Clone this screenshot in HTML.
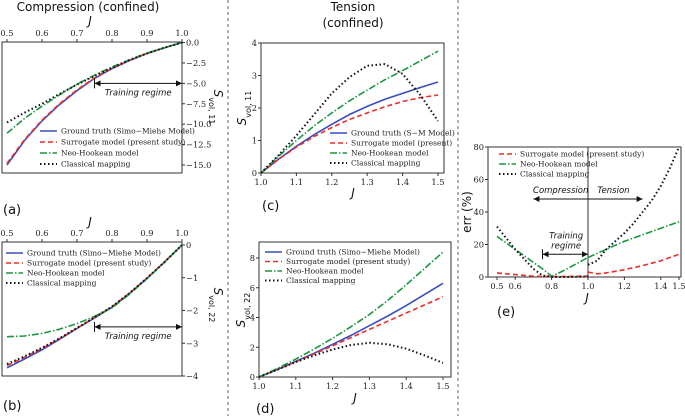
<!DOCTYPE html>
<html><head><meta charset="utf-8">
<style>
html,body{margin:0;padding:0;background:#fff;}
svg{display:block;}
.tk{font-family:"DejaVu Serif","Liberation Serif",serif;font-size:8.3px;fill:#222;}
.lg{font-family:"DejaVu Serif","Liberation Serif",serif;font-size:7.5px;fill:#222;}
.tt{font-family:"DejaVu Sans","Liberation Sans",sans-serif;font-size:12px;fill:#111;}
.it{font-family:"DejaVu Sans","Liberation Sans",sans-serif;font-size:8.5px;font-style:italic;fill:#111;}
.pl{font-family:"DejaVu Sans","Liberation Sans",sans-serif;font-size:13px;fill:#111;}
</style></head>
<body>
<svg id="fig" width="685" height="416" viewBox="0 0 685 416" xmlns="http://www.w3.org/2000/svg">
<line x1="228" y1="0" x2="228" y2="416" stroke="#666" stroke-dasharray="3,3"/>
<line x1="458" y1="0" x2="458" y2="416" stroke="#666" stroke-dasharray="3,3"/>
<text class="tt" x="88" y="11" text-anchor="middle">Compression (confined)</text>
<text class="tt" x="353" y="11" text-anchor="middle">Tension</text>
<text class="tt" x="353" y="27" text-anchor="middle">(confined)</text>
<text class="pl" x="3" y="214">(a)</text>
<text class="pl" x="3" y="410">(b)</text>
<text class="pl" x="262" y="210">(c)</text>
<text class="pl" x="256" y="413">(d)</text>
<text class="pl" x="497" y="316">(e)</text>
</svg>
<script>
// ---- panel (a) data ----
const aJ=[0.5,0.55,0.6,0.65,0.7,0.75,0.8,0.85,0.9,0.95,1.0];
const aGround=[-15,-12,-9.6,-7.6,-5.9,-4.4,-3.2,-2.2,-1.35,-0.65,0];
const aSurrogate=[-14.8,-11.9,-9.5,-7.5,-5.8,-4.35,-3.15,-2.2,-1.35,-0.65,0];
const aNeo=[-11.1,-9.3,-7.8,-6.4,-5.1,-4.0,-3.0,-2.1,-1.3,-0.63,0];
const aClassical=[-9.8,-8.6,-7.5,-6.3,-5.15,-4.1,-3.1,-2.15,-1.33,-0.64,0];
const aXTicks=[0.5,0.6,0.7,0.8,0.9,1.0];
const aYTicks=[0,-2.5,-5,-7.5,-10,-12.5,-15];
// ---- panel (b) data ----
const bJ=[0.5,0.55,0.6,0.65,0.7,0.75,0.8,0.85,0.9,0.95,1.0];
const bGround=[-3.75,-3.48,-3.2,-2.88,-2.55,-2.23,-1.9,-1.48,-1.02,-0.52,0];
const bSurrogate=[-3.68,-3.43,-3.16,-2.86,-2.54,-2.22,-1.88,-1.47,-1.01,-0.52,0];
const bNeo=[-2.8,-2.78,-2.7,-2.57,-2.4,-2.18,-1.92,-1.5,-1.03,-0.53,0];
const bClassical=[-3.63,-3.4,-3.14,-2.85,-2.53,-2.21,-1.88,-1.47,-1.01,-0.52,0];
const bXTicks=[0.5,0.6,0.7,0.8,0.9,1.0];
const bYTicks=[0,-1,-2,-3,-4];
// ---- panel (c) data ----
const cJ=[1.0,1.05,1.1,1.15,1.2,1.25,1.3,1.35,1.4,1.45,1.5];
const cGround=[0,0.43,0.82,1.18,1.5,1.8,2.05,2.27,2.45,2.63,2.8];
const cSurrogate=[0,0.42,0.8,1.12,1.4,1.65,1.85,2.04,2.2,2.32,2.4];
const cNeo=[0,0.52,1.0,1.45,1.85,2.22,2.55,2.87,3.15,3.45,3.75];
const cClassical=[0,0.55,1.15,1.8,2.45,2.95,3.3,3.35,3.05,2.4,1.6];
const cXTicks=[1.0,1.1,1.2,1.3,1.4,1.5];
const cYTicks=[0,1,2,3,4];
// ---- panel (d) data ----
const dJ=[1.0,1.05,1.1,1.15,1.2,1.25,1.3,1.35,1.4,1.45,1.5];
const dGround=[0,0.5,1.05,1.6,2.2,2.8,3.45,4.1,4.8,5.55,6.3];
const dSurrogate=[0,0.5,1.03,1.55,2.1,2.65,3.2,3.75,4.3,4.85,5.4];
const dNeo=[0,0.58,1.2,1.88,2.6,3.38,4.2,5.15,6.2,7.3,8.4];
const dClassical=[0,0.5,1.0,1.45,1.85,2.15,2.3,2.2,1.9,1.45,0.95];
const dXTicks=[1.0,1.1,1.2,1.3,1.4,1.5];
const dYTicks=[0,2,4,6,8];
// ---- panel (e) data ----
const eJComp=[0.5,0.55,0.6,0.65,0.7,0.75,0.8,0.85,0.9,0.95,1.0];
const eSurrComp=[2.5,2,1.5,1,0.5,0.4,0.3,0.3,0.4,0.5,0.6];
const eNeoComp=[25,21,17,13,9,5,0.5,3,6,9,12];
const eClassComp=[31,24,17,11,5,1,0,0,0,0.2,0.3];
const eJTen=[1.0,1.05,1.1,1.15,1.2,1.25,1.3,1.35,1.4,1.45,1.5];
const eSurrTen=[3,2,2.5,3.5,4.5,5.7,7,8.5,10,12,14];
const eNeoTen=[12,14.5,17,19.5,22,24,26,28,30,32,34];
const eClassTen=[7.5,10,17,22,27,33,40,47,56,67,80];
const eXTicks=[0.5,0.6,0.8,1.0,1.2,1.4,1.5];
const eYTicks=[0,20,40,60,80];

const NS="http://www.w3.org/2000/svg";
const svg=document.getElementById('fig');
function mk(tag,attrs,parent){const e=document.createElementNS(NS,tag);for(const k in attrs)e.setAttribute(k,attrs[k]);(parent||svg).appendChild(e);return e;}
const STY={
 ground:{stroke:'#3b4cc0',dash:'',w:1.6},
 surrogate:{stroke:'#e8302a',dash:'5,3',w:1.6},
 neo:{stroke:'#1a9641',dash:'7,2,1.5,2',w:1.6},
 classical:{stroke:'#111',dash:'1.5,2.5',w:2}
};
function scale(d0,d1,r0,r1){return v=>r0+(v-d0)/(d1-d0)*(r1-r0);}
function drawSeries(g,xs,ys,sx,sy,key,name){
  const s=STY[key];
  const p=mk('polyline',{points:xs.map((x,i)=>sx(x).toFixed(1)+','+sy(ys[i]).toFixed(1)).join(' '),fill:'none',stroke:s.stroke,'stroke-width':s.w,'stroke-dasharray':s.dash},g);
  
  
}
function fmt(v,dec){return v.toFixed(dec).replace('-','\u2212');}
function axes(g,c,sx,sy){
  mk('rect',{x:c.x0,y:c.y0,width:c.x1-c.x0,height:c.y1-c.y0,fill:'none',stroke:'#333','stroke-width':1},g);
  c.xt.forEach(v=>{const x=sx(v);
    if(c.xtop){mk('line',{x1:x,y1:c.y0,x2:x,y2:c.y0-3,stroke:'#333'},g);
      const t=mk('text',{x:x,y:c.y0-6,'text-anchor':'middle',class:'tk'},g);t.textContent=fmt(v,c.xd);}
    else{mk('line',{x1:x,y1:c.y1,x2:x,y2:c.y1+3,stroke:'#333'},g);
      const t=mk('text',{x:x,y:c.y1+12,'text-anchor':'middle',class:'tk'},g);t.textContent=fmt(v,c.xd);}
  });
  c.yt.forEach(v=>{const y=sy(v);
    if(c.yright){mk('line',{x1:c.x1,y1:y,x2:c.x1+3,y2:y,stroke:'#333'},g);
      const t=mk('text',{x:c.x1+4,y:y+3,'text-anchor':'start',class:'tk'},g);t.textContent=fmt(v,c.yd);}
    else{mk('line',{x1:c.x0,y1:y,x2:c.x0-3,y2:y,stroke:'#333'},g);
      const t=mk('text',{x:c.x0-4,y:y+3,'text-anchor':'end',class:'tk'},g);t.textContent=fmt(v,c.yd);}
  });
}
function legend(g,x,y,dy,items){
  items.forEach((it,i)=>{const s=STY[it[0]];const yy=y+i*dy;
    const li=mk('g',{},g);
    
    
    mk('line',{x1:x,y1:yy,x2:x+17,y2:yy,stroke:s.stroke,'stroke-width':s.w,'stroke-dasharray':s.dash},li);
    const t=mk('text',{x:x+21,y:yy+2.5,class:'lg'},li);t.textContent=it[1];});
}
function arrow(g,xa,xb,y,bar){
  mk('line',{x1:xa,y1:y,x2:xb,y2:y,stroke:'#111','stroke-width':1},g);
  mk('path',{d:`M${xa},${y} l6,-3 v6 z`,fill:'#111'},g);
  mk('path',{d:`M${xb},${y} l-6,-3 v6 z`,fill:'#111'},g);
  if(bar) mk('line',{x1:xa,y1:y-5,x2:xa,y2:y+5,stroke:'#111'},g);
}
function ylabel(g,x,y,rot,sub){
  const t=mk('text',{x:x,y:y,transform:`rotate(${rot} ${x} ${y})`,'text-anchor':'middle',class:'tt','font-style':'italic'},g);
  t.textContent='S';
  const ts=mk('tspan',{'font-size':'8','baseline-shift':'sub','font-style':'normal'},t);ts.textContent=sub;
  
  
}
function jlabel(g,x,y){const t=mk('text',{x:x,y:y,'text-anchor':'middle',class:'tt','font-style':'italic'},g);t.textContent='J';
  
  }

// Panel a
(function(){
 const g=mk('g',{});
 const c={x0:2,x1:182,y0:42,y1:173,xt:aXTicks,yt:aYTicks,xd:1,yd:1,xtop:true,yright:true};
 const sx=scale(0.5,1.0,7,182), sy=scale(0,-15,42.5,165);
 axes(g,c,sx,sy);
 drawSeries(g,aJ,aGround,sx,sy,'ground','line-ground-truth');
 drawSeries(g,aJ,aSurrogate,sx,sy,'surrogate','line-surrogate');
 drawSeries(g,aJ,aNeo,sx,sy,'neo','line-neo-hookean');
 drawSeries(g,aJ,aClassical,sx,sy,'classical','line-classical');
 arrow(g,sx(0.75),sx(1.0),sy(-5),true);
 const t=mk('text',{x:sx(0.875),y:sy(-5)+12,'text-anchor':'middle',class:'it'},g);t.textContent='Training regime';
 legend(g,40,131,11,[['ground','Ground truth (Simo\u2212Miehe Model)'],['surrogate','Surrogate model (present study)'],['neo','Neo-Hookean model'],['classical','Classical mapping']]);
 jlabel(g,90,25);
 ylabel(g,214,107,90,'vol, 11');
})();
// Panel b
(function(){
 const g=mk('g',{});
 const c={x0:2,x1:182,y0:242,y1:376,xt:bXTicks,yt:bYTicks,xd:1,yd:0,xtop:true,yright:true};
 const sx=scale(0.5,1.0,7,182), sy=scale(0,-4,245,376);
 axes(g,c,sx,sy);
 drawSeries(g,bJ,bGround,sx,sy,'ground','line-ground-truth');
 drawSeries(g,bJ,bSurrogate,sx,sy,'surrogate','line-surrogate');
 drawSeries(g,bJ,bNeo,sx,sy,'neo','line-neo-hookean');
 drawSeries(g,bJ,bClassical,sx,sy,'classical','line-classical');
 arrow(g,sx(0.75),sx(1.0),sy(-2.5),true);
 const t=mk('text',{x:sx(0.875),y:sy(-2.5)+12,'text-anchor':'middle',class:'it'},g);t.textContent='Training regime';
 legend(g,6,253,10,[['ground','Ground truth (Simo\u2212Miehe Model)'],['surrogate','Surrogate model (present study)'],['neo','Neo-Hookean model'],['classical','Classical mapping']]);
 jlabel(g,90,226);
 ylabel(g,214,305,90,'vol, 22');
})();
// Panel c
(function(){
 const g=mk('g',{});
 const c={x0:261,x1:444,y0:43,y1:173,xt:cXTicks,yt:cYTicks,xd:1,yd:0,xtop:false,yright:false};
 const sx=scale(1.0,1.5,261,438), sy=scale(0,4,173,43);
 axes(g,c,sx,sy);
 drawSeries(g,cJ,cGround,sx,sy,'ground','line-ground-truth');
 drawSeries(g,cJ,cSurrogate,sx,sy,'surrogate','line-surrogate');
 drawSeries(g,cJ,cNeo,sx,sy,'neo','line-neo-hookean');
 drawSeries(g,cJ,cClassical,sx,sy,'classical','line-classical');
 legend(g,330,133,10,[['ground','Ground truth (S\u2212M Model)'],['surrogate','Surrogate model (present)'],['neo','Neo-Hookean model'],['classical','Classical mapping']]);
 jlabel(g,353,197);
 ylabel(g,246,108,-90,'vol, 11');
})();
// Panel d
(function(){
 const g=mk('g',{});
 const c={x0:259,x1:451,y0:242,y1:377,xt:dXTicks,yt:dYTicks,xd:1,yd:0,xtop:false,yright:false};
 const sx=scale(1.0,1.5,259,443), sy=scale(0,8,377,258);
 axes(g,c,sx,sy);
 drawSeries(g,dJ,dGround,sx,sy,'ground','line-ground-truth');
 drawSeries(g,dJ,dSurrogate,sx,sy,'surrogate','line-surrogate');
 drawSeries(g,dJ,dNeo,sx,sy,'neo','line-neo-hookean');
 drawSeries(g,dJ,dClassical,sx,sy,'classical','line-classical');
 legend(g,265,252,9.5,[['ground','Ground truth (Simo\u2212Miehe Model)'],['surrogate','Surrogate model (present study)'],['neo','Neo-Hookean model'],['classical','Classical mapping']]);
 jlabel(g,355,402);
 ylabel(g,245,310,-90,'vol, 22');
})();
// Panel e
(function(){
 const g=mk('g',{});
 const c={x0:488,x1:681,y0:147,y1:277,xt:eXTicks,yt:eYTicks,xd:1,yd:0,xtop:false,yright:false};
 const sx=scale(0.5,1.5,497,679), sy=scale(0,80,277,147);
 axes(g,c,sx,sy);
 mk('line',{x1:sx(1.0),y1:147,x2:sx(1.0),y2:277,stroke:'#333','stroke-width':1},g);
 drawSeries(g,eJComp,eSurrComp,sx,sy,'surrogate','line-surrogate-compression');
 drawSeries(g,eJTen,eSurrTen,sx,sy,'surrogate','line-surrogate-tension');
 drawSeries(g,eJComp,eNeoComp,sx,sy,'neo','line-neo-compression');
 drawSeries(g,eJTen,eNeoTen,sx,sy,'neo','line-neo-tension');
 drawSeries(g,eJComp,eClassComp,sx,sy,'classical','line-classical-compression');
 drawSeries(g,eJTen,eClassTen,sx,sy,'classical','line-classical-tension');
 arrow(g,sx(0.7),sx(1.3),sy(48),false);
 let t=mk('text',{x:sx(0.85),y:sy(48)-6,'text-anchor':'middle',class:'it'},g);t.textContent='Compression';
 t=mk('text',{x:sx(1.14),y:sy(48)-6,'text-anchor':'middle',class:'it'},g);t.textContent='Tension';
 arrow(g,sx(0.75),sx(1.0),sy(14),true);
 t=mk('text',{x:sx(0.88),y:sy(14)-16,'text-anchor':'middle',class:'it'},g);t.textContent='Training';
 t=mk('text',{x:sx(0.88),y:sy(14)-6,'text-anchor':'middle',class:'it'},g);t.textContent='regime';
 legend(g,499,154,10,[['surrogate','Surrogate model (present study)'],['neo','Neo-Hookean model'],['classical','Classical mapping']]);
 jlabel(g,587,302);
 t=mk('text',{x:471,y:212,transform:'rotate(-90 471 212)','text-anchor':'middle',class:'tt','font-size':'11'},g);t.textContent='err (%)';
 
 
})();
</script>
</body></html>
